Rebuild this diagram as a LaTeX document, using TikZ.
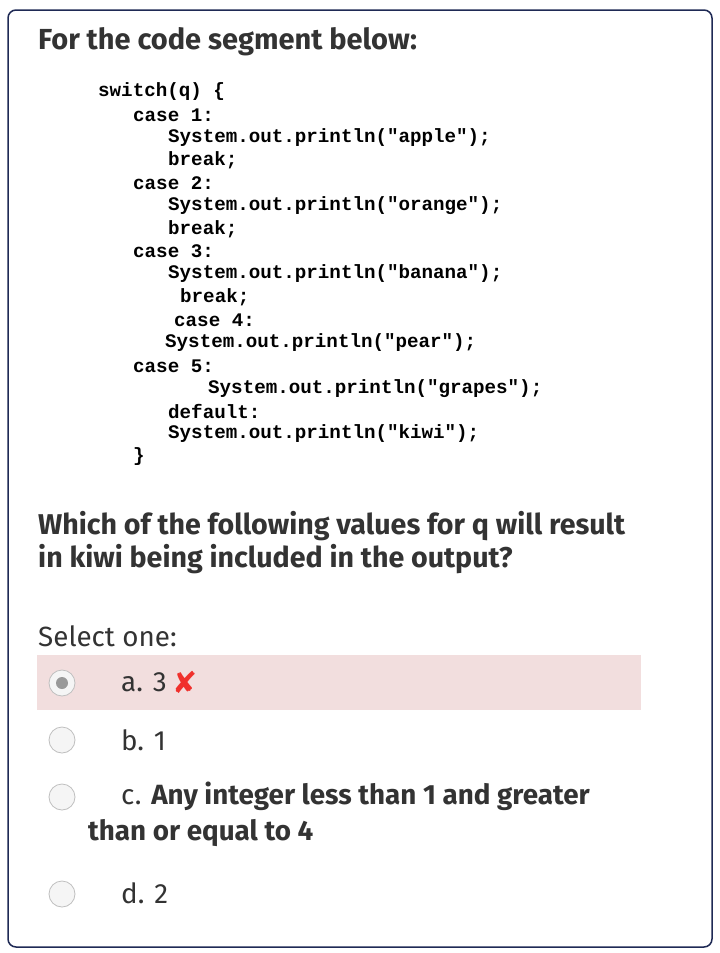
\documentclass[tikz,border=0pt]{standalone}
\usepackage{fontspec}
\setmainfont{Fira Sans}
\newfontfamily\codefont{Liberation Mono}
\newfontfamily\symfont{DejaVu Sans}
\definecolor{frame}{HTML}{1F2A55}
\definecolor{txt}{HTML}{333333}
\definecolor{hl}{HTML}{F2DEDE}
\definecolor{xred}{HTML}{F0302C}
\begin{document}
\begin{tikzpicture}[x=1pt,y=-1pt,
  code/.style={anchor=west,inner sep=0pt,font=\codefont\bfseries\fontsize{19.2}{19.2}\selectfont,text=black},
  head/.style={anchor=west,inner sep=0pt,font=\fontsize{28.6}{28.6}\selectfont\bfseries,text=txt},
  opt/.style={anchor=west,inner sep=0pt,font=\fontsize{27.8}{27.8}\selectfont,text=txt},
  radio/.style={circle,draw=black!25,fill=black!4,line width=0.8pt,minimum size=26pt,inner sep=0pt}]
\useasboundingbox (0,0) rectangle (720,953);
\fill[white] (0,0) rectangle (720,953);
\draw[frame,line width=1.5pt,rounded corners=8pt] (8,10) rectangle (712,947);
\node[head,font=\fontsize{29}{29}\selectfont\bfseries] (title) at (38,42) {For the code segment below:};
\node[code] (c1) at (98,92) {switch(q) \{};
\node[code] (c2) at (133,115) {case 1:};
\node[code] (c3) at (168,138) {System.out.println("apple");};
\node[code] (c4) at (168,160) {break;};
\node[code] (c5) at (133,183) {case 2:};
\node[code] (c6) at (168,206) {System.out.println("orange");};
\node[code] (c7) at (168,229) {break;};
\node[code] (c8) at (133,251) {case 3:};
\node[code] (c9) at (168,274) {System.out.println("banana");};
\node[code] (c10) at (180,297) {break;};
\node[code] (c11) at (174,320) {case 4:};
\node[code] (c12) at (165,343) {System.out.println("pear");};
\node[code] (c13) at (133,366) {case 5:};
\node[code] (c14) at (208,389) {System.out.println("grapes");};
\node[code] (c15) at (168,411) {default:};
\node[code] (c16) at (168,434) {System.out.println("kiwi");};
\node[code] (c17) at (133,457) {\}};
\node[head] (q1) at (38,526) {Which of the following values for q will result};
\node[head] (q2) at (38,559) {in kiwi being included in the output?};
\node[opt] (sel) at (38,636) {Select one:};
\fill[hl] (37,655) rectangle (641,710);
\node[radio] (ra) at (62,683) {};
\fill[black!40] (ra) circle (6pt);
\node[radio] (rb) at (62,740) {};
\node[radio] (rc) at (62,797) {};
\node[radio] (rd) at (62,894) {};
\node[opt] (oa) at (121,682) {a. 3};
\node[anchor=west,inner sep=0pt,text=xred,font=\symfont\fontsize{30}{30}\selectfont] (xa) at (172,682) {✘};
\node[opt] (ob) at (121,740) {b. 1};
\node[opt] (oc) at (121,796) {c. {\bfseries Any integer less than 1 and greater}};
\node[opt,font=\fontsize{27.8}{27.8}\selectfont\bfseries] (oc2) at (88,833) {than or equal to 4};
\node[opt] (od) at (121,893) {d. 2};
\end{tikzpicture}
\end{document}
